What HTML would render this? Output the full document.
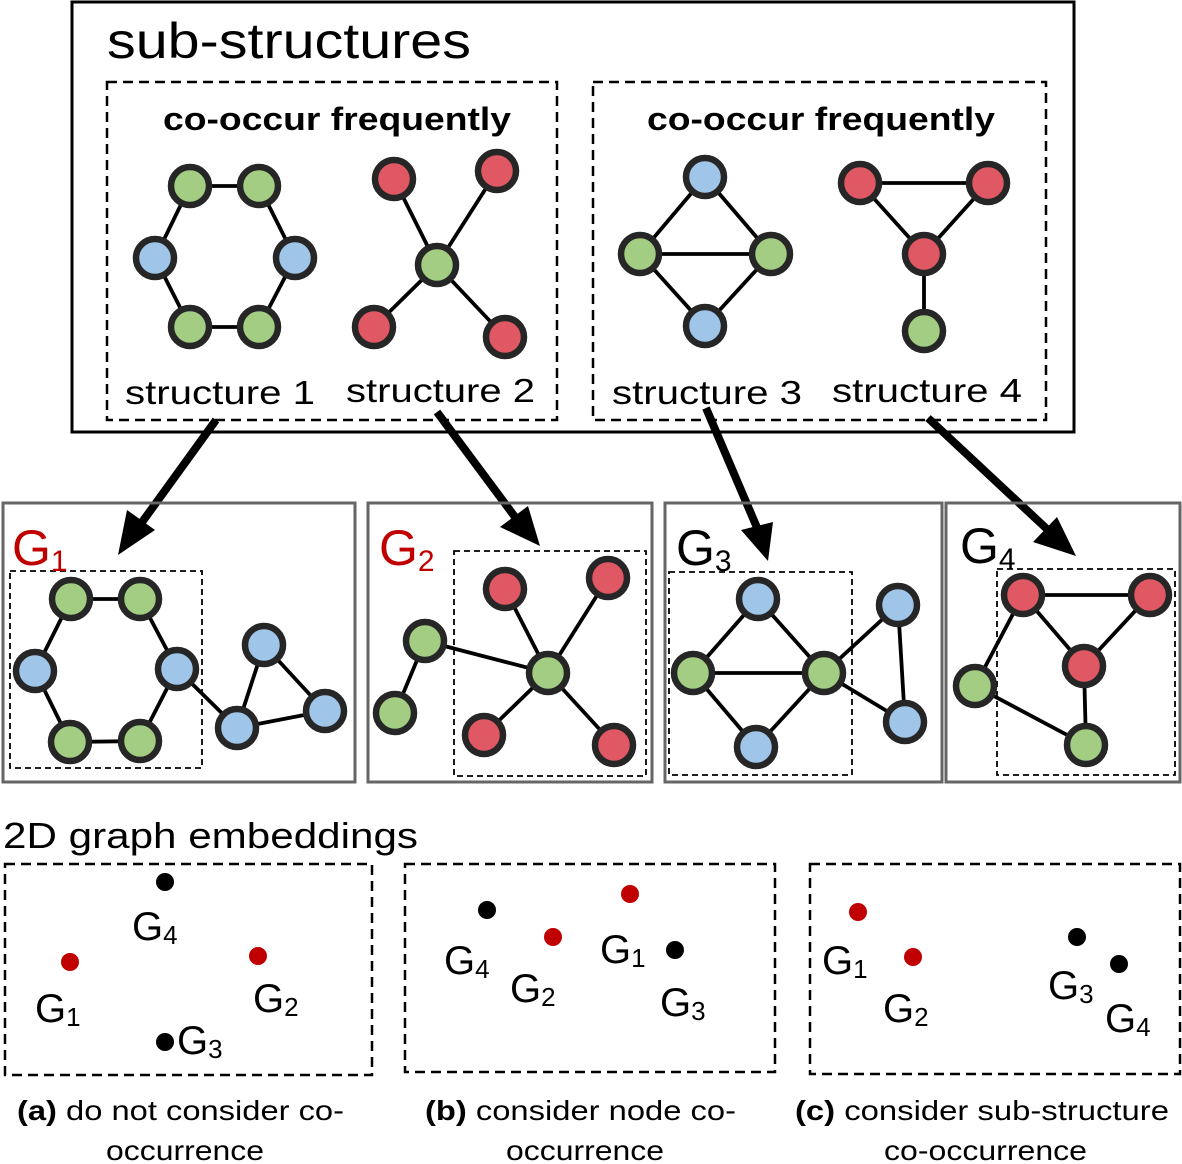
<!DOCTYPE html>
<html><head><meta charset="utf-8"><style>
html,body{margin:0;padding:0;background:#fff;}
svg{display:block;font-family:"Liberation Sans",sans-serif;}
</style></head><body>
<svg width="1182" height="1164" viewBox="0 0 1182 1164" xmlns="http://www.w3.org/2000/svg">
<rect x="72" y="2" width="1002" height="430" fill="none" stroke="#000" stroke-width="3"/>
<text x="107" y="58" font-size="50" textLength="364" lengthAdjust="spacingAndGlyphs">sub-structures</text>
<rect x="107" y="82" width="450" height="338" fill="none" stroke="#000" stroke-width="2.5" stroke-dasharray="10,6"/>
<rect x="593" y="82" width="453" height="338" fill="none" stroke="#000" stroke-width="2.5" stroke-dasharray="10,6"/>
<text x="163" y="130" font-size="32" font-weight="bold" textLength="348" lengthAdjust="spacingAndGlyphs">co-occur frequently</text>
<text x="647" y="130" font-size="32" font-weight="bold" textLength="348" lengthAdjust="spacingAndGlyphs">co-occur frequently</text>
<g font-size="33">
<text x="125" y="404" textLength="190" lengthAdjust="spacingAndGlyphs">structure 1</text>
<text x="346" y="402" textLength="189" lengthAdjust="spacingAndGlyphs">structure 2</text>
<text x="612" y="404" textLength="190" lengthAdjust="spacingAndGlyphs">structure 3</text>
<text x="832" y="402" textLength="190" lengthAdjust="spacingAndGlyphs">structure 4</text>
</g>
<g stroke="#000" stroke-width="3.8">
<polyline points="190,186 259,186 295,258 259,327 190,327 155,258 190,186" fill="none"/>
<line x1="437" y1="265" x2="394" y2="179"/><line x1="437" y1="265" x2="497" y2="171"/>
<line x1="437" y1="265" x2="374" y2="327"/><line x1="437" y1="265" x2="505" y2="337"/>
<polygon points="705,177 771,254 705,326 640,254" fill="none"/><line x1="640" y1="254" x2="771" y2="254"/>
<polygon points="860,183 988,183 924,254" fill="none"/><line x1="924" y1="254" x2="924" y2="331"/>
</g>
<g stroke="#262626" stroke-width="6.5">
<g fill="#a3cd82"><circle cx="190" cy="186" r="19"/><circle cx="259" cy="186" r="19"/><circle cx="190" cy="327" r="19"/><circle cx="259" cy="327" r="19"/><circle cx="437" cy="265" r="19"/><circle cx="640" cy="254" r="19"/><circle cx="771" cy="254" r="19"/><circle cx="924" cy="331" r="19"/></g>
<g fill="#9fc5e8"><circle cx="155" cy="258" r="19"/><circle cx="295" cy="258" r="19"/><circle cx="705" cy="177" r="19"/><circle cx="705" cy="326" r="19"/></g>
<g fill="#e05863"><circle cx="394" cy="179" r="19"/><circle cx="497" cy="171" r="19"/><circle cx="374" cy="327" r="19"/><circle cx="505" cy="337" r="19"/><circle cx="860" cy="183" r="19"/><circle cx="988" cy="183" r="19"/><circle cx="924" cy="254" r="19"/></g>
</g>
<g stroke="#000" stroke-width="8" fill="#000">
<line x1="216" y1="420" x2="140" y2="525"/><polygon points="118,555 127,510 155,530" stroke="none"/>
<line x1="437" y1="412" x2="515" y2="517"/><polygon points="540,546 500,527 528,506" stroke="none"/>
<line x1="706" y1="408" x2="758" y2="530"/><polygon points="768,561 741,530 773,522" stroke="none"/>
<line x1="928" y1="418" x2="1048" y2="530"/><polygon points="1076,556 1033,542 1057,517" stroke="none"/>
</g>
<g fill="none" stroke="#666" stroke-width="3">
<rect x="3" y="503" width="352" height="279"/><rect x="368" y="503" width="284" height="279"/>
<rect x="665" y="503" width="277" height="279"/><rect x="946" y="503" width="234" height="279"/>
</g>
<g fill="none" stroke="#000" stroke-width="1.8" stroke-dasharray="6,4">
<rect x="10" y="571" width="192" height="197"/><rect x="454" y="551" width="192" height="225"/>
<rect x="669" y="572" width="183" height="203"/><rect x="997" y="569" width="178" height="206"/>
</g>
<g font-size="50">
<text x="12" y="565" fill="#c00000">G<tspan font-size="30" dy="6">1</tspan></text>
<text x="379" y="565" fill="#c00000">G<tspan font-size="30" dy="6">2</tspan></text>
<text x="676" y="565">G<tspan font-size="30" dy="6">3</tspan></text>
<text x="960" y="563">G<tspan font-size="30" dy="6">4</tspan></text>
</g>
<g stroke="#000" stroke-width="3.8" fill="none">
<polyline points="71,599 140,599 177,669 140,741 70,742 35,671 71,599"/>
<line x1="177" y1="669" x2="237" y2="728"/><polygon points="237,728 264,645 325,711"/>
<line x1="548" y1="673" x2="425" y2="641"/><line x1="425" y1="641" x2="395" y2="713"/>
<line x1="548" y1="673" x2="505" y2="589"/><line x1="548" y1="673" x2="608" y2="578"/>
<line x1="548" y1="673" x2="484" y2="735"/><line x1="548" y1="673" x2="614" y2="745"/>
<polygon points="758,599 824,673 756,747 693,673"/><line x1="693" y1="673" x2="824" y2="673"/>
<polygon points="824,673 898,605 905,722"/>
<polygon points="1023,595 1150,595 1084,666"/><line x1="1084" y1="666" x2="1086" y2="745"/>
<polyline points="1023,595 975,686 1086,745"/>
</g>
<g stroke="#262626" stroke-width="6.5">
<g fill="#a3cd82"><circle cx="71" cy="599" r="19"/><circle cx="140" cy="599" r="19"/><circle cx="70" cy="742" r="19"/><circle cx="140" cy="741" r="19"/>
<circle cx="548" cy="673" r="19"/><circle cx="425" cy="641" r="19"/><circle cx="395" cy="713" r="19"/>
<circle cx="693" cy="673" r="19"/><circle cx="824" cy="673" r="19"/><circle cx="975" cy="686" r="19"/><circle cx="1086" cy="745" r="19"/></g>
<g fill="#9fc5e8"><circle cx="35" cy="671" r="19"/><circle cx="177" cy="669" r="19"/><circle cx="264" cy="645" r="19"/><circle cx="237" cy="728" r="19"/><circle cx="325" cy="711" r="19"/>
<circle cx="758" cy="599" r="19"/><circle cx="756" cy="747" r="19"/><circle cx="898" cy="605" r="19"/><circle cx="905" cy="722" r="19"/></g>
<g fill="#e05863"><circle cx="505" cy="589" r="19"/><circle cx="608" cy="578" r="19"/><circle cx="484" cy="735" r="19"/><circle cx="614" cy="745" r="19"/>
<circle cx="1023" cy="595" r="19"/><circle cx="1150" cy="595" r="19"/><circle cx="1084" cy="666" r="19"/></g>
</g>
<text x="3" y="848" font-size="36" textLength="415" lengthAdjust="spacingAndGlyphs">2D graph embeddings</text>
<g fill="none" stroke="#000" stroke-width="2.5" stroke-dasharray="10,6">
<rect x="5" y="864" width="367" height="211"/><rect x="405" y="864" width="370" height="208"/><rect x="810" y="864" width="370" height="210"/>
</g>
<g>
<circle cx="165" cy="882" r="9" fill="#000"/><circle cx="70" cy="962" r="9" fill="#c00000"/><circle cx="258" cy="956" r="9" fill="#c00000"/><circle cx="165" cy="1042" r="9" fill="#000"/>
<circle cx="487" cy="910" r="9" fill="#000"/><circle cx="553" cy="937" r="9" fill="#c00000"/><circle cx="630" cy="894" r="9" fill="#c00000"/><circle cx="675" cy="950" r="9" fill="#000"/>
<circle cx="858" cy="912" r="9" fill="#c00000"/><circle cx="913" cy="957" r="9" fill="#c00000"/><circle cx="1077" cy="937" r="9" fill="#000"/><circle cx="1119" cy="964" r="9" fill="#000"/>
</g>
<g font-size="40">
<text x="132" y="940">G<tspan font-size="26" dy="4">4</tspan></text>
<text x="35" y="1022">G<tspan font-size="26" dy="4">1</tspan></text>
<text x="253" y="1012">G<tspan font-size="26" dy="4">2</tspan></text>
<text x="177" y="1054">G<tspan font-size="26" dy="4">3</tspan></text>
<text x="444" y="974">G<tspan font-size="26" dy="4">4</tspan></text>
<text x="510" y="1002">G<tspan font-size="26" dy="4">2</tspan></text>
<text x="600" y="963">G<tspan font-size="26" dy="4">1</tspan></text>
<text x="660" y="1016">G<tspan font-size="26" dy="4">3</tspan></text>
<text x="822" y="974">G<tspan font-size="26" dy="4">1</tspan></text>
<text x="883" y="1022">G<tspan font-size="26" dy="4">2</tspan></text>
<text x="1048" y="999">G<tspan font-size="26" dy="4">3</tspan></text>
<text x="1105" y="1032">G<tspan font-size="26" dy="4">4</tspan></text>
</g>
<g font-size="28">
<text x="17" y="1120" textLength="327" lengthAdjust="spacingAndGlyphs"><tspan font-weight="bold">(a)</tspan> do not consider co-</text>
<text x="106" y="1160" textLength="158" lengthAdjust="spacingAndGlyphs">occurrence</text>
<text x="425" y="1120" textLength="311" lengthAdjust="spacingAndGlyphs"><tspan font-weight="bold">(b)</tspan> consider node co-</text>
<text x="506" y="1160" textLength="158" lengthAdjust="spacingAndGlyphs">occurrence</text>
<text x="795" y="1120" textLength="374" lengthAdjust="spacingAndGlyphs"><tspan font-weight="bold">(c)</tspan> consider sub-structure</text>
<text x="884" y="1160" textLength="203" lengthAdjust="spacingAndGlyphs">co-occurrence</text>
</g>
</svg>
</body></html>
